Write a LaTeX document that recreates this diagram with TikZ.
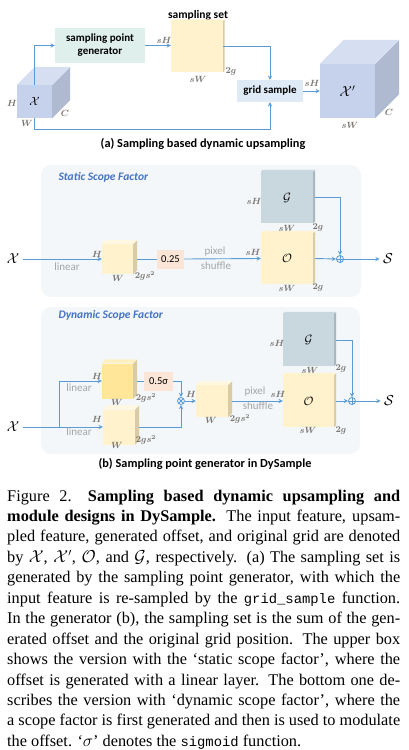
\documentclass[tikz,border=0pt]{standalone}
\usepackage{amsmath,amssymb}
\usepackage{fontspec}
\setmainfont{Liberation Serif}
\setmonofont[Scale=0.85]{Liberation Mono}
\newfontfamily\calib{Carlito}
\usetikzlibrary{calc,arrows}

\definecolor{lnblue}{HTML}{5B9BD5}
\definecolor{cubefront}{HTML}{C6D2EC}
\definecolor{cubetop}{HTML}{D6DFF2}
\definecolor{cubeside}{HTML}{AFBAD0}
\definecolor{featyel}{HTML}{FFF2CC}
\definecolor{featdark}{HTML}{FFE699}
\definecolor{feattan}{HTML}{D9CBA3}
\definecolor{gridgray}{HTML}{C9D7DF}
\definecolor{gridside}{HTML}{A9B6BD}
\definecolor{gentea}{HTML}{DFF0EC}
\definecolor{gsblue}{HTML}{DEEBF7}
\definecolor{scalefill}{HTML}{FBE5D6}
\definecolor{panelbg}{HTML}{F3F7FA}
\definecolor{dimgray}{HTML}{7A7570}
\definecolor{opgray}{HTML}{A5A5A5}
\definecolor{titleblue}{HTML}{4472C4}

% side and top face of a feature map: node, depth, side colour, top colour
\newcommand{\featside}[4]{%
  \fill[#3] (#1.north east) -- ++(#2,-#2) -- ($(#1.south east)+(#2,-#2)$) -- (#1.south east) -- cycle;
  \fill[#4] (#1.north west) -- ++(#2,-#2) -- ($(#1.north east)+(#2,-#2)$) -- (#1.north east) -- cycle;}

\begin{document}
\begin{tikzpicture}[x=1pt,y=-1pt,
  line/.style={draw=lnblue,line width=0.9pt},
  arr/.style={line,-stealth},
  fmap/.style={inner sep=0pt,fill=featyel},
  dimlbl/.style={text=dimgray,inner sep=1pt,font=\fontsize{9}{9}\selectfont},
  oplbl/.style={text=opgray,inner sep=1pt,font=\calib\fontsize{11}{11}\selectfont},
  mathlbl/.style={font=\fontsize{14}{14}\selectfont},
  op/.style={circle,draw=lnblue,line width=0.8pt,minimum size=7pt,inner sep=0pt},
  paneltitle/.style={anchor=west,text=titleblue,font=\calib\bfseries\itshape\fontsize{11.5}{12}\selectfont},
  subcap/.style={font=\calib\bfseries\fontsize{12.3}{13}\selectfont},
  capline/.style={anchor=base west,inner sep=0pt,font=\fontsize{16.3}{18}\selectfont}]
\useasboundingbox (0,0) rectangle (409,750);

% (a) sampling based dynamic upsampling
\node[font=\calib\bfseries\fontsize{11.5}{12}\selectfont] at (198,15) {sampling set};
\node[fill=gentea,minimum width=90pt,minimum height=35pt,inner sep=0pt,align=center,
  font=\calib\bfseries\fontsize{11}{13}\selectfont] (gen) at (100,45.5) {sampling point\\generator};
\node[fmap,minimum width=52pt,minimum height=51pt] (sset) at (197,46.5) {};
\featside{sset}{1.5}{feattan}{featyel}
\node[fill=gsblue,minimum width=66pt,minimum height=22pt,inner sep=0pt,
  font=\calib\bfseries\fontsize{11}{11}\selectfont] (gs) at (270,91) {grid sample};
\node[fill=cubefront,minimum width=35pt,minimum height=33pt,inner sep=0pt,font=\fontsize{12}{12}\selectfont] (xin) at (34.5,101.5) {$\mathcal{X}$};
\featside{xin}{18}{cubeside}{cubetop}
\node[fill=cubefront,minimum width=55pt,minimum height=54pt,inner sep=0pt,font=\fontsize{14}{14}\selectfont] (xout) at (347.5,91) {$\mathcal{X}'$};
\featside{xout}{24}{cubeside}{cubetop}

\draw[arr] (xin.north) |- (gen.west);
\draw[arr] (gen.east) -- (gen.east -| sset.west);
\draw[arr] (sset.east) -| (gs.north);
\draw[arr] (xin.south) -- ++(0,11) -| (gs.south);
\draw[arr] (gs.east) -- (xout.west);

\node[dimlbl] at (164,40) {$\boldsymbol{sH}$};
\node[dimlbl] at (198,79) {$\boldsymbol{sW}$};
\node[dimlbl] at (231,71) {$\boldsymbol{2g}$};
\node[dimlbl] at (12,103) {$\boldsymbol{H}$};
\node[dimlbl] at (27,123) {$\boldsymbol{W}$};
\node[dimlbl] at (65,113) {$\boldsymbol{C}$};
\node[dimlbl] at (312,83) {$\boldsymbol{sH}$};
\node[dimlbl] at (350,125) {$\boldsymbol{sW}$};
\node[dimlbl] at (389,112) {$\boldsymbol{C}$};
\node[subcap] at (203,144) {(a) Sampling based dynamic upsampling};

% (b) static scope factor
\fill[panelbg,rounded corners=10pt] (41,165) rectangle (361,297);
\node[paneltitle] at (55,177) {Static Scope Factor};
\node[mathlbl] (xs) at (13,259) {$\mathcal{X}$};
\node[fmap,minimum width=31pt,minimum height=30pt] (c1) at (117.5,259) {};
\featside{c1}{4}{feattan}{featyel!60!white}
\node[fill=scalefill,minimum width=27pt,minimum height=19pt,inner sep=0pt,font=\calib\fontsize{10.5}{11}\selectfont] (k1) at (170.5,259) {0.25};
\node[fmap,minimum width=52pt,minimum height=51pt,font=\fontsize{13}{13}\selectfont] (os) at (287,258.5) {$\mathcal{O}$};
\featside{os}{2}{feattan}{featyel}
\node[fill=gridgray,minimum width=52pt,minimum height=51pt,inner sep=0pt,font=\fontsize{13}{13}\selectfont] (gs2) at (287,197.5) {$\mathcal{G}$};
\featside{gs2}{2}{gridside}{gridgray}
\node[op] (ps) at (340,259) {};
\draw[lnblue,line width=0.8pt] (ps.north) -- (ps.south) (ps.west) -- (ps.east);
\node[mathlbl] (ss) at (388,259) {$\mathcal{S}$};

\draw[arr] (xs) -- (c1.west);
\draw[line] ([xshift=4pt]c1.east) -- (k1.west);
\draw[arr] (k1.east) -- (os.west);
\draw[arr] ([xshift=2pt]os.east) -- (ps.west);
\draw[arr] ([xshift=2pt]gs2.east) -| (ps.north);
\draw[arr] (ps.east) -- (ss.west);

\node[oplbl] at (67,267) {linear};
\node[oplbl] at (215,252) {pixel};
\node[oplbl] at (216,266) {shuffle};
\node[dimlbl] at (97,254) {$\boldsymbol{H}$};
\node[dimlbl] at (118,278) {$\boldsymbol{W}$};
\node[dimlbl] at (145,276) {$\boldsymbol{2gs^2}$};
\node[dimlbl] at (253,252) {$\boldsymbol{sH}$};
\node[dimlbl] at (254,201) {$\boldsymbol{sH}$};
\node[dimlbl] at (287,228) {$\boldsymbol{sW}$};
\node[dimlbl] at (318,227) {$\boldsymbol{2g}$};
\node[dimlbl] at (287,288) {$\boldsymbol{sW}$};
\node[dimlbl] at (318,287) {$\boldsymbol{2g}$};

% (b) dynamic scope factor
\fill[panelbg,rounded corners=10pt] (41,307) rectangle (360,454);
\node[paneltitle] at (55,315) {Dynamic Scope Factor};
\node[mathlbl] (xd) at (13,427) {$\mathcal{X}$};
\coordinate (jn) at (59,427);
\node[fill=featdark,inner sep=0pt,minimum width=31pt,minimum height=35pt] (t1) at (117.5,381) {};
\featside{t1}{4}{feattan}{featdark!60!white}
\node[fmap,minimum width=32pt,minimum height=35pt] (b1) at (119,427) {};
\featside{b1}{4}{feattan}{featyel!60!white}
\node[fill=scalefill,minimum width=29pt,minimum height=19pt,inner sep=0pt,font=\calib\fontsize{10.5}{11}\selectfont] (k2) at (158.5,381) {0.5σ};
\node[op] (mu) at (181,401) {};
\draw[lnblue,line width=0.8pt] (mu.north west) -- (mu.south east) (mu.north east) -- (mu.south west);
\node[fmap,minimum width=32pt,minimum height=32pt] (c2) at (212,401) {};
\featside{c2}{4}{feattan}{featyel!60!white}
\node[fmap,minimum width=51pt,minimum height=52pt,font=\fontsize{13}{13}\selectfont] (od) at (308.5,401) {$\mathcal{O}$};
\featside{od}{2}{feattan}{featyel}
\node[fill=gridgray,minimum width=51pt,minimum height=52pt,inner sep=0pt,font=\fontsize{13}{13}\selectfont] (gd) at (308.5,340) {$\mathcal{G}$};
\featside{gd}{2}{gridside}{gridgray}
\node[op] (pd) at (352,401) {};
\draw[lnblue,line width=0.8pt] (pd.north) -- (pd.south) (pd.west) -- (pd.east);
\node[mathlbl] (sd) at (389,401) {$\mathcal{S}$};

\draw[line] (xd) -- (jn);
\draw[arr] (jn) |- (t1.west);
\draw[arr] (jn) -- (b1.west);
\draw[line] ([xshift=4pt]t1.east) -- (k2.west);
\draw[arr] (k2.east) -| (mu.north);
\draw[arr] ([xshift=4pt]b1.east) -| (mu.south);
\draw[arr] (mu.east) -- (c2.west);
\draw[arr] ([xshift=4pt]c2.east) -- (od.west);
\draw[arr] ([xshift=2pt]od.east) -- (pd.west);
\draw[arr] ([xshift=2pt]gd.east) -| (pd.north);
\draw[arr] (pd.east) -- (sd.west);

\node[oplbl] at (79,388) {linear};
\node[oplbl] at (79,432) {linear};
\node[oplbl] at (255,392) {pixel};
\node[oplbl] at (258,406) {shuffle};
\node[dimlbl] at (97,376) {$\boldsymbol{H}$};
\node[dimlbl] at (117,402) {$\boldsymbol{W}$};
\node[dimlbl] at (146,398) {$\boldsymbol{2gs^2}$};
\node[dimlbl] at (97,419) {$\boldsymbol{H}$};
\node[dimlbl] at (117,445) {$\boldsymbol{W}$};
\node[dimlbl] at (146,440) {$\boldsymbol{2gs^2}$};
\node[dimlbl] at (191,394) {$\boldsymbol{H}$};
\node[dimlbl] at (211,420) {$\boldsymbol{W}$};
\node[dimlbl] at (240,419) {$\boldsymbol{2gs^2}$};
\node[dimlbl] at (278,394) {$\boldsymbol{sH}$};
\node[dimlbl] at (308,430) {$\boldsymbol{sW}$};
\node[dimlbl] at (341,430) {$\boldsymbol{2g}$};
\node[dimlbl] at (277,343) {$\boldsymbol{sH}$};
\node[dimlbl] at (310,370) {$\boldsymbol{sW}$};
\node[dimlbl] at (341,368) {$\boldsymbol{2g}$};
\node[subcap] at (205,464) {(b) Sampling point generator in DySample};

% figure caption
\foreach \capl [count=\i from 0] in {
  {Figure 2.\quad\textbf{Sampling based dynamic upsampling and}},
  {\textbf{module designs in DySample.} The input feature, upsam-},
  {pled feature, generated offset, and original grid are denoted},
  {by $\mathcal{X}$, $\mathcal{X}'$, $\mathcal{O}$, and $\mathcal{G}$, respectively. (a) The sampling set is},
  {generated by the sampling point generator, with which the},
  {input feature is re-sampled by the \texttt{grid\_sample} function.},
  {In the generator (b), the sampling set is the sum of the gen-},
  {erated offset and the original grid position. The upper box},
  {shows the version with the `static scope factor', where the},
  {offset is generated with a linear layer. The bottom one de-},
  {scribes the version with `dynamic scope factor', where the},
  {a scope factor is first generated and then is used to modulate}}
  \node[capline] at (7,501+20.45*\i) {\makebox[393pt][s]{\capl}};
\node[capline] at (7,746.4) {the offset. `$\sigma$' denotes the \texttt{sigmoid} function.};
\end{tikzpicture}
\end{document}
